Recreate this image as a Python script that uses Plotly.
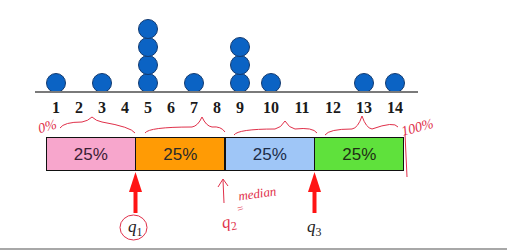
import plotly.graph_objects as go

# ---------------- data ----------------
dot_values = [1, 3, 5, 5, 5, 5, 7, 9, 9, 9, 10, 13, 14]
tick_numbers = list(range(1, 15))
quartile_shares = [25, 25, 25, 25]
quartile_labels = ["25%", "25%", "25%", "25%"]
quartile_colors = ["#F7A6CC", "#FF9B05", "#9FC6F7", "#5FE13C"]
quartile_text_colors = ["#3a2035", "#2a2a2a", "#1c2c48", "#1e2e14"]
quartile_marks = [25, 75]
quartile_mark_labels = ["<i>q</i><sub>1</sub>", "<i>q</i><sub>3</sub>"]

W, H = 507, 251


def px(x):
    return x / W


def py(y):
    return 1 - y / H


# number line in the picture is not evenly spaced: 10..14 are wider apart
def disp(v):
    return v if v <= 9 else 9 + (v - 9) * 31 / 23


# stack dots
counts = {}
dx, dy = [], []
for v in dot_values:
    counts[v] = counts.get(v, 0) + 1
    dx.append(disp(v))
    dy.append(counts[v])

fig = go.Figure()

fig.add_trace(go.Scatter(
    x=dx, y=dy, mode="markers",
    marker=dict(size=19, color="#0B63C4", line=dict(color="#123a70", width=1)),
    xaxis="x", yaxis="y", showlegend=False, hoverinfo="skip"))

for share, lab, col, tcol in zip(quartile_shares, quartile_labels, quartile_colors, quartile_text_colors):
    fig.add_trace(go.Bar(
        x=[share], y=[0], orientation="h", width=1,
        marker=dict(color=col, line=dict(color="#111", width=1.5)),
        text=[lab], textposition="inside", insidetextanchor="middle",
        textfont=dict(family="Liberation Sans, Arial", size=17, color=tcol),
        xaxis="x2", yaxis="y2", showlegend=False, hoverinfo="skip"))

red = "#e0304a"
shapes = []
# number line
shapes.append(dict(type="line", xref="paper", yref="paper", x0=px(35), x1=px(418),
                   y0=py(92), y1=py(92), line=dict(color="#7a7a7a", width=2)))
# bottom gray line
shapes.append(dict(type="line", xref="paper", yref="paper", x0=0, x1=1,
                   y0=py(249), y1=py(249), line=dict(color="#a8a8a8", width=2)))
# circle around q1
shapes.append(dict(type="circle", xref="paper", yref="paper", x0=px(120), x1=px(147),
                   y0=py(240), y1=py(215), line=dict(color=red, width=1)))
# red line right of box
shapes.append(dict(type="line", xref="paper", yref="paper", x0=px(405), x1=px(407),
                   y0=py(134), y1=py(177), line=dict(color=red, width=1)))
# short red arrow shaft (hand drawn, under median)
shapes.append(dict(type="line", xref="paper", yref="paper", x0=px(223), x1=px(224),
                   y0=py(180), y1=py(203), line=dict(color=red, width=1)))

# big red arrows at q1 and q3 (x in quartile-bar units)
unit = (404 - 46) / 100.0  # pixels per percent
for q in quartile_marks:
    shapes.append(dict(type="line", xref="x2", yref="paper", x0=q, x1=q,
                       y0=py(213), y1=py(186), line=dict(color="#ff1414", width=4)))
    hw = 6.5 / unit
    shapes.append(dict(type="path", xref="x2", yref="paper",
                       path=f"M {q - hw},{py(192)} L {q},{py(172)} L {q + hw},{py(192)} Z",
                       fillcolor="#ff1414", line=dict(color="#ff1414", width=0)))


def brace(x0, y0, x1, y1, xm, ym):
    pts = [
        (x0, y0), (x0 + 4, y0 - 6), (xm - 10, y0 - 6), (xm - 4, y0 - 7), (xm, ym),
        (xm + 4, y0 - 7), (xm + 10, y0 - 6), (x1 - 4, y1 - 6), (x1, y1)]
    p = f"M {px(pts[0][0])},{py(pts[0][1])}"
    p += f" Q {px(pts[1][0])},{py(pts[1][1])} {px(pts[2][0])},{py(pts[2][1])}"
    p += f" Q {px(pts[3][0])},{py(pts[3][1])} {px(pts[4][0])},{py(pts[4][1])}"
    p += f" Q {px(pts[5][0])},{py(pts[5][1])} {px(pts[6][0])},{py(pts[6][1])}"
    p += f" Q {px(pts[7][0])},{py(pts[7][1])} {px(pts[8][0])},{py(pts[8][1])}"
    return dict(type="path", xref="paper", yref="paper", path=p,
                line=dict(color=red, width=1))


shapes.append(brace(60, 128, 135, 133, 92, 117))
shapes.append(brace(145, 133, 225, 132, 202, 117))
shapes.append(brace(234, 135, 317, 133, 285, 121))
shapes.append(brace(325, 135, 398, 127, 362, 116))
# small hand-drawn arrow head under the median divider
shapes.append(dict(type="path", xref="paper", yref="paper",
                   path=f"M {px(218)},{py(187)} L {px(223)},{py(179)} L {px(228)},{py(186)}",
                   line=dict(color=red, width=1)))

annotations = []


def note(x, y, text, size, color, angle=0, family="Liberation Serif", xref="paper"):
    annotations.append(dict(x=x, y=y, xref=xref, yref="paper", showarrow=False,
                            text=text, textangle=angle, xanchor="center", yanchor="middle",
                            font=dict(family=family, size=size, color=color)))


for q, lab in zip(quartile_marks, quartile_mark_labels):
    note(q, py(228), lab, 17, "#222", xref="x2")
note(px(47), py(126), "<i>0%</i>", 14, red, -15)
note(px(417), py(127), "<i>100%</i>", 14, red, -15)
note(px(257), py(193), "<i>median</i>", 13, red, -8)
note(px(229), py(223), "<i>q</i><sub>2</sub>", 17, red, -10)
note(px(240), py(208), "=", 11, red, -15)

x_lo = 1 - 56 / 23
x_hi = 1 + (W - 56) / 23
fig.update_layout(
    width=W, height=H, margin=dict(l=0, r=0, t=0, b=0),
    paper_bgcolor="white", plot_bgcolor="white",
    barmode="stack",
    xaxis=dict(domain=[0, 1], range=[x_lo, x_hi], showgrid=False, zeroline=False,
               showline=False, anchor="free", position=py(92),
               tickvals=[disp(v) for v in tick_numbers],
               ticktext=[str(v) for v in tick_numbers], ticks="",
               tickfont=dict(family="Liberation Serif", size=16, color="#1a1a1a", weight="bold"),
               ticklabelstandoff=4),
    yaxis=dict(domain=[0, 1], range=[(101 - 251) / 18, 101 / 18], visible=False),
    xaxis2=dict(domain=[px(46), px(404)], range=[0, 100], visible=False, anchor="y2"),
    yaxis2=dict(domain=[py(171), py(137)], range=[-0.5, 0.5], visible=False, anchor="x2"),
    shapes=shapes, annotations=annotations,
)

fig.write_html("out.html")
